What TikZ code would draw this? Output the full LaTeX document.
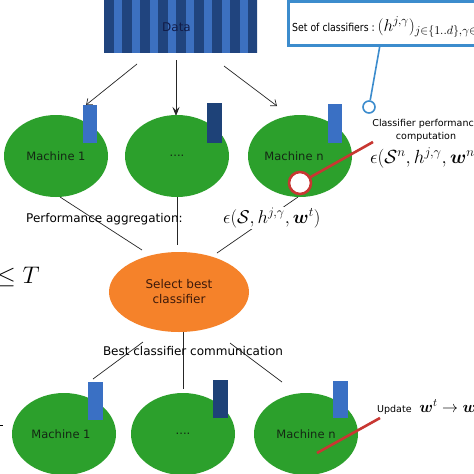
\RequirePackage{fix-cm}
\documentclass[tikz,border=0pt]{standalone}
\usepackage{amsmath,bm}
\usepackage{fontspec}
\setmainfont{DejaVu Sans}
\newfontfamily\dvn{DejaVu Sans}[FakeStretch=0.85]
\usetikzlibrary{shapes.geometric,arrows.meta}
\definecolor{mgreen}{RGB}{44,160,44}
\definecolor{morange}{RGB}{245,130,42}
\definecolor{tabL}{RGB}{58,112,196}
\definecolor{tabD}{RGB}{30,66,120}
\definecolor{dataL}{RGB}{60,112,192}
\definecolor{dataD}{RGB}{32,68,126}
\definecolor{mred}{RGB}{200,55,50}
\definecolor{bblue}{RGB}{60,140,205}
\definecolor{mtext}{RGB}{20,40,20}
\begin{document}
\begin{tikzpicture}[x=1pt,y=-1pt,
  machine/.style={ellipse, fill=mgreen, minimum width=104pt, minimum height=82pt, inner sep=0pt,
     text=mtext, font=\fontsize{11.5}{13}\selectfont},
  tabbox/.style={rectangle, inner sep=0pt, minimum width=14pt, minimum height=38pt},
  conn/.style={draw=black!85, line width=0.7pt},
  arr/.style={conn, -{Straight Barb[length=5pt,width=8pt]}},
  arrm/.style={conn, -{Stealth[length=9pt,width=7pt,inset=3.5pt]}},
  redl/.style={draw=mred, line width=2.6pt},
  sel/.style={ellipse, fill=morange, minimum width=140pt, minimum height=80pt, inner sep=0pt,
     align=center, text={rgb,255:red,60;green,25;blue,10}, font=\fontsize{12}{15}\selectfont},
  lbl/.style={inner sep=0pt, font=\fontsize{12}{14}\selectfont}
]
\clip (0,0) rectangle (474,474);
\fill[white] (0,0) rectangle (474,474);

% Data block
\node[rectangle, fill=dataL, minimum width=153pt, minimum height=58pt, inner sep=0pt,
  path picture={\foreach \i in {0,...,8}
     \fill[dataD] ([xshift=18*\i pt]path picture bounding box.south west) rectangle ++(10pt,60pt);},
  label={[text={rgb,255:red,18;green,28;blue,72}, font=\fontsize{12}{14}\selectfont, xshift=-4pt, yshift=-3pt]center:Data}]
  (data) at (180.5,24) {};

% arrows from data
\coordinate (a1s) at (137,64); \coordinate (a1e) at (86,105);
\coordinate (a2s) at (176,60); \coordinate (a2e) at (176,116);
\coordinate (a3s) at (224,66); \coordinate (a3e) at (277,106);
\draw[arr] (a1s) -- (a1e);
\draw[arrm] (a2s) -- (a2e);
\draw[arr] (a3s) -- (a3e);

% classifier box
\node[rectangle, draw=bblue, line width=3pt, fill=white, minimum width=250pt, minimum height=44pt, inner sep=0pt]
  (cb) at (413,23) {};
\node[anchor=base west, inner sep=0pt, font=\fontsize{17}{19}\selectfont] (cbt) at (292,31)
  {{\dvn\fontsize{11}{13}\selectfont Set of classifiers :}\,$(h^{j,\gamma})_{j\in\{1..d\},\gamma\in\Gamma}$};
\coordinate (cbp) at (380,45);
\node[circle, draw=bblue, line width=1.6pt, fill=white, minimum size=12pt, inner sep=0pt] (bc) at (369,107) {};
\draw[draw=bblue, line width=1.6pt] (cbp) -- (bc);

% top machines
\node[machine] (m1) at (56,156) {Machine 1};
\node[machine] (m2) at (177,156) {....};
\node[machine] (m3) at (300,156) {\hspace*{-12pt}Machine n};
\node[tabbox, fill=tabL] (t1) at (90,124) {};
\node[tabbox, fill=tabD, minimum width=15pt, minimum height=40pt] (t2) at (214.5,123) {};
\node[tabbox, fill=tabL, minimum height=39pt] (t3) at (335,123.5) {};

% red probe top
\coordinate (r1) at (373,142);
\node[circle, minimum size=23pt, inner sep=0pt] (pc) at (300,183) {};
\draw[redl] (r1) -- (pc.center);
\node[circle, draw=mred, line width=2.6pt, fill=white, minimum size=22pt, inner sep=0pt] at (pc) {};

\node[align=center, inner sep=0pt, font=\fontsize{9.5}{13}\selectfont] (cpc) at (426,130)
  {Classifier performance\\computation};
\node[anchor=base west, inner sep=0pt, font=\fontsize{19}{21}\selectfont] (cpf) at (370,163)
  {$\epsilon(\mathcal{S}^n, h^{j,\gamma}, \bm{w}^n)$};

% aggregation lines
\coordinate (g1s) at (60,197); \coordinate (g1e) at (142,250);
\coordinate (g2s) at (177,197); \coordinate (g2e) at (177,245);
\coordinate (g3s) at (298,197); \coordinate (g3e) at (217,253);
\draw[conn] (g1s) -- (g1e);
\draw[conn] (g2s) -- (g2e);
\draw[conn] (g3s) -- (g3e);
\node[lbl, anchor=base west] (pa) at (26,222) {Performance aggregation:};
\node[anchor=base west, fill=white, inner sep=1pt, font=\fontsize{18.5}{21}\selectfont] (pf) at (222,223)
  {$\epsilon(\mathcal{S}, h^{j,\gamma}, \bm{w}^t)$};

% select
\node[sel] (sel) at (179,292) {Select best\\classifier};
\node[anchor=base west, inner sep=0pt, font=\fontsize{24}{28}\selectfont] (lt) at (-3,283) {$\leq T$};

% communication lines
\coordinate (c1s) at (143,342); \coordinate (c1e) at (93,379);
\coordinate (c2s) at (183,332); \coordinate (c2e) at (183,389);
\coordinate (c3s) at (230,343); \coordinate (c3e) at (282,382);
\draw[conn] (c1s) -- (c1e);
\draw[conn] (c2s) -- (c2e);
\draw[conn] (c3s) -- (c3e);
\node[lbl, anchor=base] (bcc) at (193,355) {Best classifier communication};

% bottom machines
\node[machine] (b1) at (64,434) {\hspace*{-6pt}Machine 1};
\node[machine] (b2) at (183,434) {....};
\node[machine] (b3) at (306,434) {Machine n};
\node[tabbox, fill=tabL, minimum width=15pt] (bt1) at (95.5,401) {};
\node[tabbox, fill=tabD, minimum width=15pt] (bt2) at (220.5,399) {};
\node[tabbox, fill=tabL, minimum width=15pt, minimum height=37pt] (bt3) at (340.5,399.5) {};

% red update
\coordinate (u1) at (380,418); \coordinate (u2) at (317,453);
\draw[redl] (u1) -- (u2);
\node[anchor=base west, inner sep=0pt, font=\fontsize{16}{18}\selectfont] (up) at (377,412)
  {{\fontsize{9.5}{11}\selectfont Update}\, $\bm{w}^t \to \bm{w}^{t+1}$};

% small mark at left edge
\draw[line width=0.9pt] (0,425) -- (3,425);
\end{tikzpicture}
\end{document}
